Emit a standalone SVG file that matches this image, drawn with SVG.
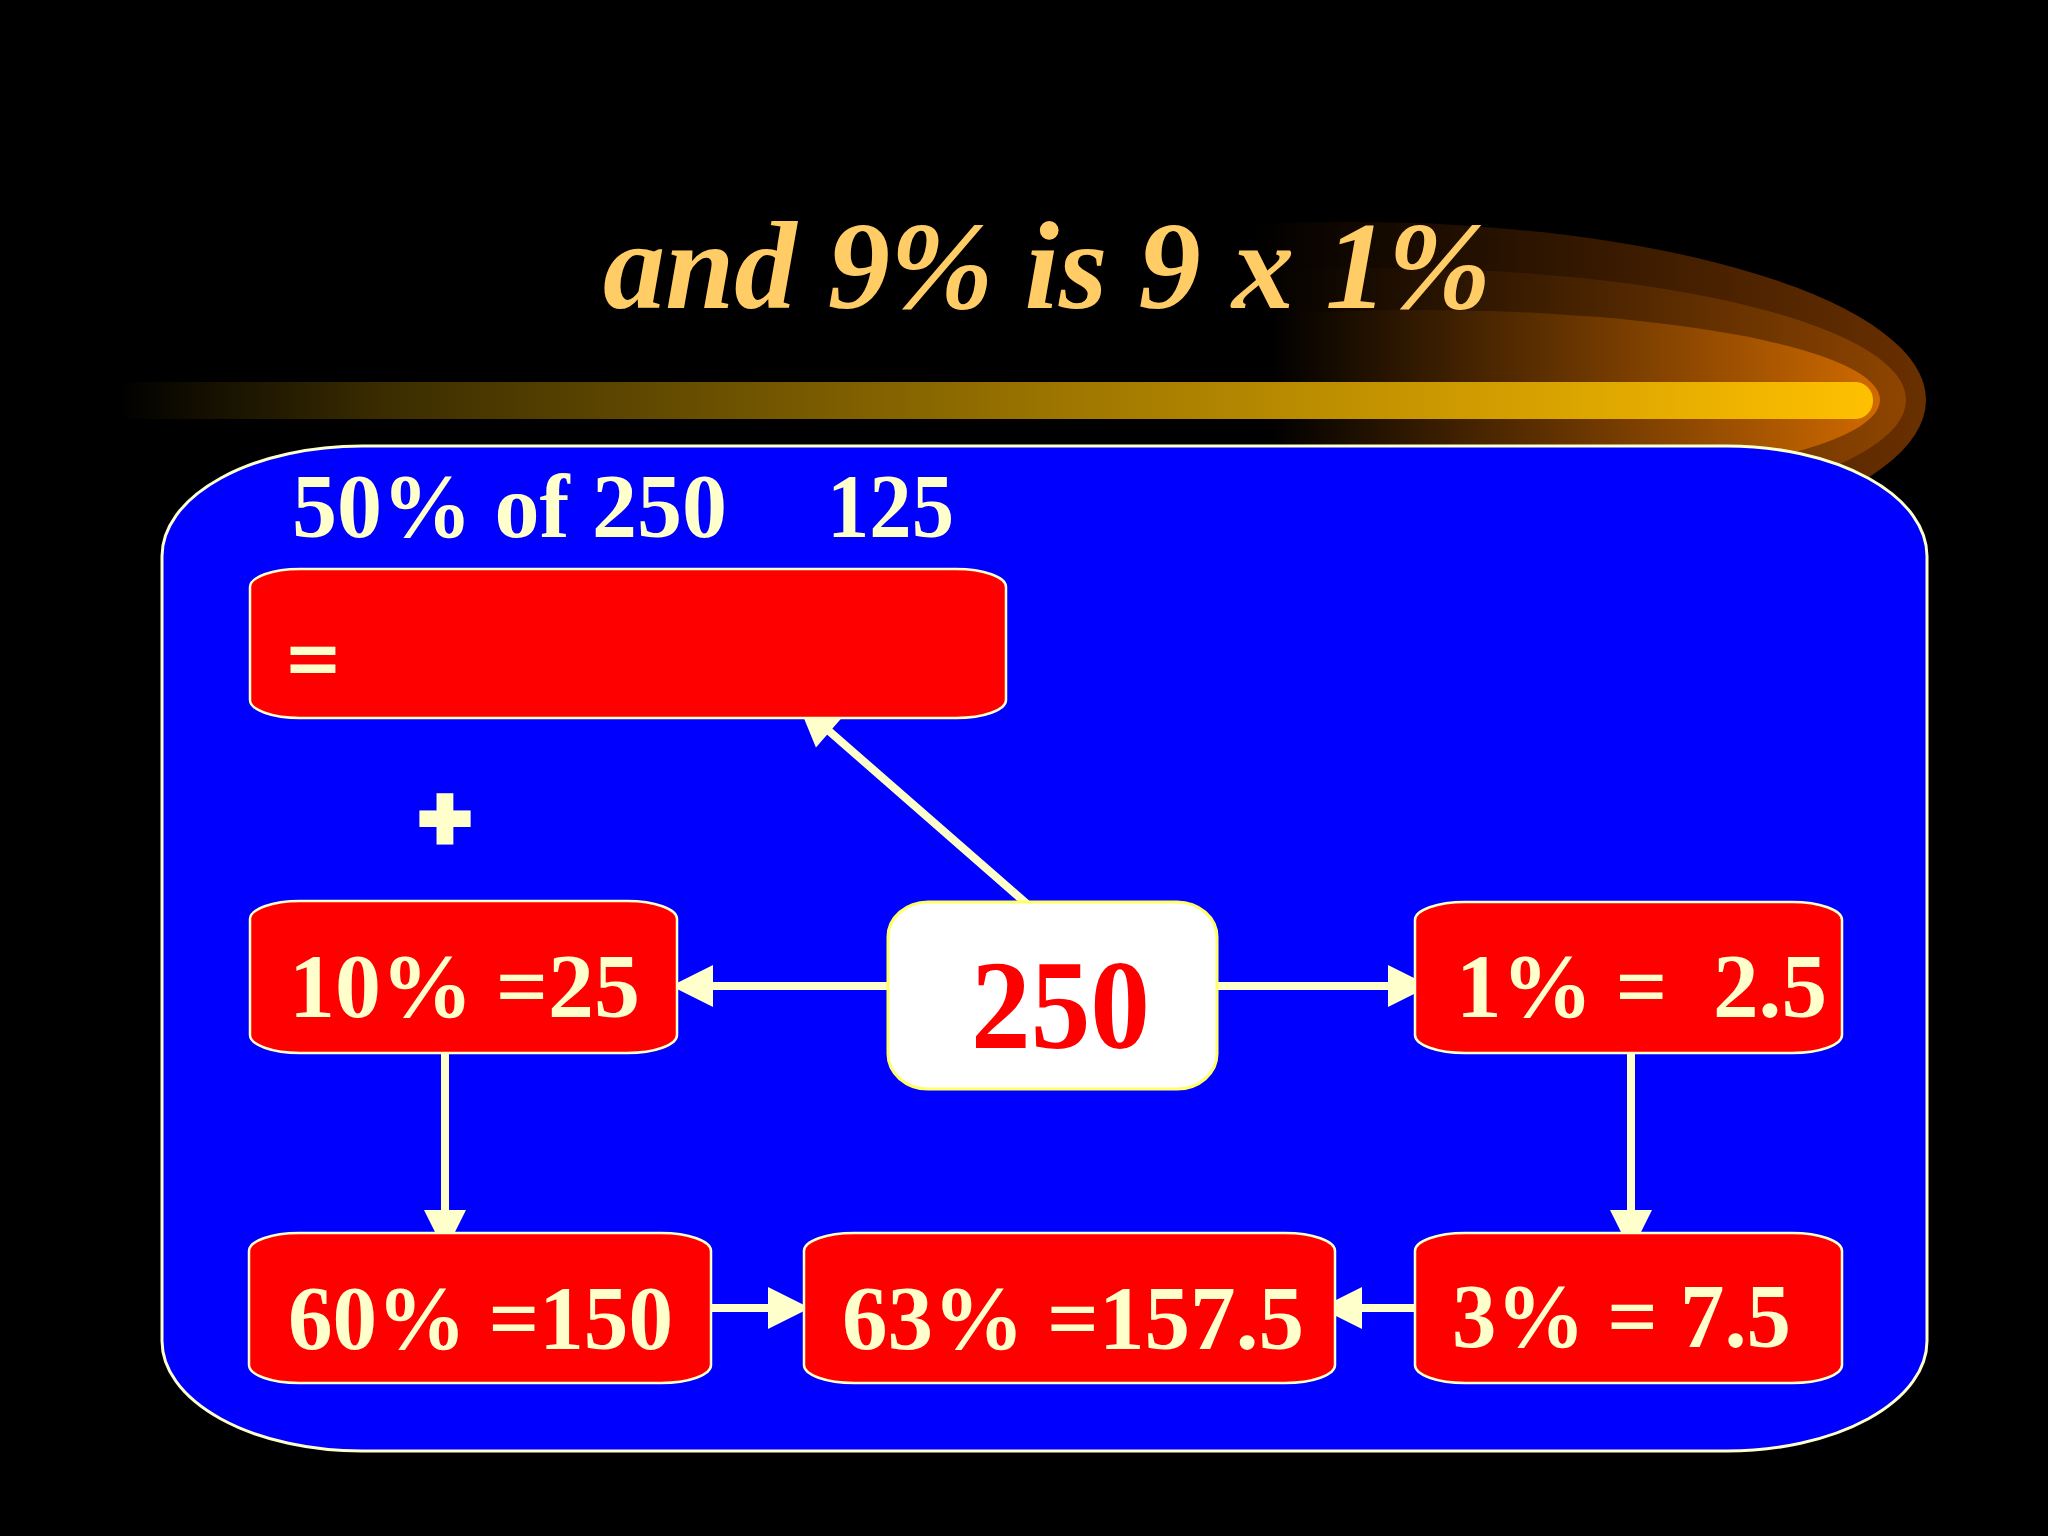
<svg xmlns="http://www.w3.org/2000/svg" width="2048" height="1536" viewBox="0 0 2048 1536">
<style>
.box{fill:#FF0000;stroke:#FFFFCC;stroke-width:2.5}
.lbl{font-family:"Liberation Serif","Times New Roman",serif;font-weight:bold;fill:#FFFFCC;font-size:92px}
.conn{stroke:#FFFFCC;stroke-width:8;fill:none}
</style>
<defs>
<linearGradient id="bar" x1="117" y1="0" x2="1873" y2="0" gradientUnits="userSpaceOnUse">
<stop offset="0" stop-color="#000000"/>
<stop offset="0.15" stop-color="#3a2c00"/>
<stop offset="0.55" stop-color="#a07800"/>
<stop offset="1" stop-color="#FFC000"/>
</linearGradient>
<linearGradient id="sw1" x1="1250" y1="0" x2="1926" y2="0" gradientUnits="userSpaceOnUse">
<stop offset="0" stop-color="#000000"/>
<stop offset="1" stop-color="#6a3000"/>
</linearGradient>
<linearGradient id="sw2" x1="1260" y1="0" x2="1906" y2="0" gradientUnits="userSpaceOnUse">
<stop offset="0" stop-color="#000000"/>
<stop offset="1" stop-color="#8f4500"/>
</linearGradient>
<linearGradient id="sw3" x1="1270" y1="0" x2="1880" y2="0" gradientUnits="userSpaceOnUse">
<stop offset="0" stop-color="#000000"/>
<stop offset="1" stop-color="#d06a00"/>
</linearGradient>
<marker id="ah" markerUnits="userSpaceOnUse" markerWidth="44" markerHeight="44" refX="1" refY="22" orient="auto" overflow="visible">
<path d="M0,1 L42,22 L0,43 z" fill="#FFFFCC"/>
</marker>
</defs>
<rect x="0" y="0" width="2048" height="1536" fill="#000000"/>
<g id="decor">
<ellipse cx="1350" cy="400" rx="576" ry="178" fill="url(#sw1)"/>
<ellipse cx="1380" cy="400" rx="526" ry="132" fill="url(#sw2)"/>
<ellipse cx="1420" cy="400" rx="460" ry="90" fill="url(#sw3)"/>
<rect x="117" y="382" width="1756" height="37" rx="18" ry="18" fill="url(#bar)"/>
</g>
<text id="title" x="603" y="308" font-family="'Liberation Serif','Times New Roman',serif" font-weight="bold" font-style="italic" font-size="125" fill="#FFCC66" textLength="888" lengthAdjust="spacingAndGlyphs">and 9% is 9 x 1%</text>
<g id="panel">
<rect x="162" y="446" width="1765" height="1005" rx="200" ry="110" fill="#0000FF" stroke="#FFFFCC" stroke-width="3"/>
<text class="lbl" y="537" font-size="97"><tspan x="292" textLength="435" lengthAdjust="spacingAndGlyphs">50% of 250</tspan><tspan x="827" textLength="127" lengthAdjust="spacingAndGlyphs">125</tspan></text>
<text id="plus" x="445" y="848" text-anchor="middle" font-family="'Liberation Sans',Arial,sans-serif" font-weight="bold" font-size="88" fill="#FFFFCC" stroke="#FFFFCC" stroke-width="7" stroke-linejoin="miter">+</text>
</g>
<g id="connectors">
<line class="conn" x1="888" y1="986" x2="712" y2="986" marker-end="url(#ah)"/>
<line class="conn" x1="1217" y1="986" x2="1389" y2="986" marker-end="url(#ah)"/>
<line class="conn" x1="445" y1="1042" x2="445" y2="1211" marker-end="url(#ah)"/>
<line class="conn" x1="1631" y1="1042" x2="1631" y2="1211" marker-end="url(#ah)"/>
<line class="conn" x1="698" y1="1308" x2="769" y2="1308" marker-end="url(#ah)"/>
<line class="conn" x1="1433" y1="1308" x2="1361" y2="1308" marker-end="url(#ah)"/>
<line class="conn" x1="1051" y1="925" x2="829" y2="731" marker-end="url(#ah)"/>
</g>
<g id="node-50">
<rect class="box" x="250" y="569" width="756" height="149" rx="50" ry="18"/>
<text class="lbl" x="287" y="690" font-size="112" stroke="#FFFFCC" stroke-width="2">=</text>
</g>
<g id="node-10">
<rect class="box" x="250" y="901" width="427" height="152" rx="50" ry="18"/>
<text class="lbl" x="289" y="1017" textLength="351" lengthAdjust="spacingAndGlyphs">10% =25</text>
</g>
<g id="node-250">
<rect x="888" y="902" width="329" height="187" rx="40" ry="35" fill="#FFFFFF" stroke="#FFFF66" stroke-width="3"/>
<text x="971" y="1048" font-family="'Liberation Serif','Times New Roman',serif" font-weight="bold" font-size="128" fill="#FF0000" textLength="179" lengthAdjust="spacingAndGlyphs">250</text>
</g>
<g id="node-1">
<rect class="box" x="1415" y="902" width="427" height="151" rx="50" ry="18"/>
<text class="lbl" x="1456" y="1017" xml:space="preserve" textLength="371" lengthAdjust="spacingAndGlyphs">1% =  2.5</text>
</g>
<g id="node-60">
<rect class="box" x="249" y="1233" width="462" height="150" rx="50" ry="18"/>
<text class="lbl" x="288" y="1349" textLength="385" lengthAdjust="spacingAndGlyphs">60% =150</text>
</g>
<g id="node-63">
<rect class="box" x="804" y="1233" width="531" height="150" rx="50" ry="18"/>
<text class="lbl" x="842" y="1349" textLength="462" lengthAdjust="spacingAndGlyphs">63% =157.5</text>
</g>
<g id="node-3">
<rect class="box" x="1415" y="1233" width="427" height="150" rx="50" ry="18"/>
<text class="lbl" x="1452" y="1347" textLength="339" lengthAdjust="spacingAndGlyphs">3% = 7.5</text>
</g>
</svg>
